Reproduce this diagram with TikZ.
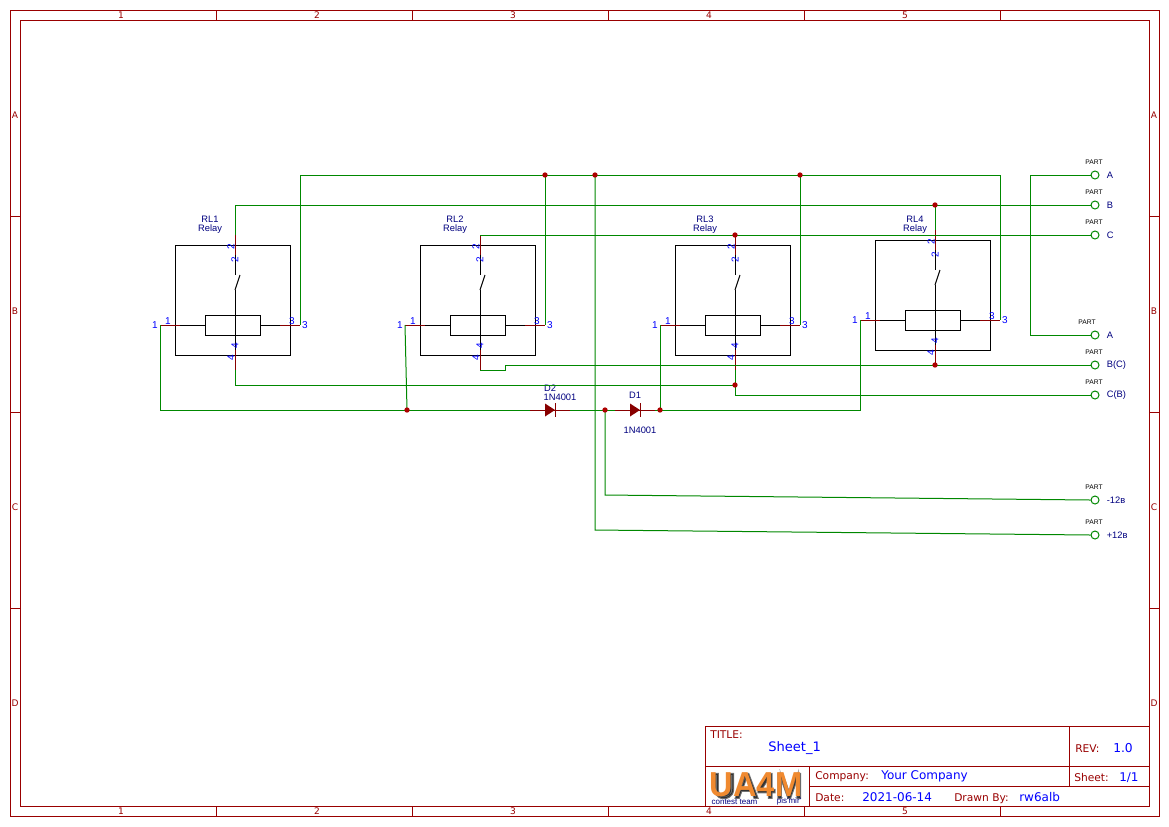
\documentclass[tikz,border=0pt]{standalone}
\usepackage{fontspec}
\setmainfont{DejaVu Sans}
\newfontfamily\lab{Liberation Sans}
\newfontfamily\logoglow[FakeBold=6]{Liberation Sans}
\definecolor{frame}{HTML}{990000}
\definecolor{wire}{HTML}{008800}
\definecolor{sym}{HTML}{880000}
\definecolor{pinc}{HTML}{0000FF}
\definecolor{labc}{HTML}{000080}
\definecolor{orng}{HTML}{F08A30}
\tikzset{
  wirel/.style={draw=wire,line width=0.75pt},
  framel/.style={draw=frame,line width=0.75pt},
  syml/.style={draw=black,line width=0.75pt},
  pinl/.style={draw=sym,line width=0.75pt},
  dotj/.style={circle,fill=frame!80!red,inner sep=0pt,minimum size=4pt},
  pinnum/.style={text=pinc,font=\lab\fontsize{7.5}{8}\selectfont,inner sep=0pt},
  reflab/.style={text=labc,font=\lab\fontsize{7}{8}\selectfont,inner sep=0pt,align=center},
  tick/.style={text=frame,font=\fontsize{6.8}{8}\selectfont,inner sep=0pt},
  tbk/.style={text=frame,font=\fontsize{8}{9}\selectfont,inner sep=0pt,anchor=base west},
  tbv/.style={text=pinc,font=\fontsize{9}{10}\selectfont,inner sep=0pt,anchor=base west},
  partl/.style={text=black,font=\lab\fontsize{5}{6}\selectfont,inner sep=0pt},
  portc/.style={circle,draw=wire,line width=0.75pt,inner sep=0pt,minimum size=6pt},
  portl/.style={text=labc,font=\lab\fontsize{7}{8}\selectfont,inner sep=0pt,anchor=west},
  logotxt/.style={font=\lab\bfseries\fontsize{26}{28}\selectfont,inner sep=0pt,xscale=0.94},
  logoshade/.style={font=\logoglow\fontsize{26}{28}\selectfont,inner sep=0pt,xscale=0.94},
  logosub/.style={text=labc,font=\lab\fontsize{6}{7}\selectfont,inner sep=0pt},
}
% relay symbol: name, x offset, y offset
\newcommand{\relaysym}[3]{%
  \begin{scope}[shift={(#2,#3)}]
    \node[draw=black,line width=0.75pt,minimum width=86.25pt,minimum height=82.5pt,inner sep=0pt] (#1) at (232.5,300) {};
    \node[draw=black,line width=0.75pt,minimum width=41.25pt,minimum height=15pt,inner sep=0pt] (#1c) at (232.5,325) {};
    \coordinate (#1-1) at (160,325);
    \coordinate (#1-2) at (235,235);
    \coordinate (#1-3) at (300,325);
    \coordinate (#1-4) at (235,370);
    \draw[syml] (180,325) -- (#1c.west);
    \draw[syml] (#1c.east) -- (280,325);
    \draw[syml] (235,255) -- (235,275);
    \draw[syml] (235,290) -- (240,275);
    \draw[syml] (235,290) -- (235,350);
    \draw[pinl] (#1-1) -- (180,325);
    \draw[pinl] (280,325) -- (#1-3);
    \draw[pinl] (#1-2) -- (235,255);
    \draw[pinl] (235,350) -- (#1-4);
    \node[pinnum] at (155,325) {1};
    \node[pinnum] at (168,321) {1};
    \node[pinnum] at (292,321) {3};
    \node[pinnum] at (305,325) {3};
    \node[pinnum,rotate=90] at (231,247) {2};
    \node[pinnum,rotate=90] at (235,260) {2};
    \node[pinnum,rotate=90] at (235,346) {4};
    \node[pinnum,rotate=90] at (231,358) {4};
  \end{scope}}
% port: name, y, text
\newcommand{\portsym}[4][1085]{%
  \node[portc] (#2) at (1095,#3) {};
  \node[partl] at (#1+9,#3-12.5) {PART};
  \node[portl] at (1106.5,#3+0.5) {#4};}
\begin{document}
\begin{tikzpicture}[x=0.75pt,y=-0.75pt]
\useasboundingbox (0,0) rectangle (1169,826);
\fill[white] (0,0) rectangle (1169,826);
% frame
\draw[framel] (10,10) rectangle (1159,816);
\draw[framel] (20,20) rectangle (1149,806);
\foreach \x in {216,412,608,804,1000}{
  \draw[framel] (\x,10) -- (\x,20);
  \draw[framel] (\x,806) -- (\x,816);}
\foreach \y in {216,412,608}{
  \draw[framel] (10,\y) -- (20,\y);
  \draw[framel] (1149,\y) -- (1159,\y);}
\foreach \n/\x in {1/121,2/317,3/513,4/709,5/905}{
  \node[tick] at (\x,15.5) {\n};
  \node[tick] at (\x,811.5) {\n};}
\foreach \n/\y in {A/115,B/311,C/507,D/703}{
  \node[tick] at (15,\y) {\n};
  \node[tick] at (1154,\y) {\n};}
% relays
\relaysym{ra}{0}{0}
\relaysym{rb}{245}{0}
\relaysym{rc}{500}{0}
\relaysym{rd}{700}{-5}
\node[reflab] at (210,225) {RL1\\[-1.1pt]Relay};
\node[reflab] at (455,225) {RL2\\[-1.1pt]Relay};
\node[reflab] at (705,225) {RL3\\[-1.1pt]Relay};
\node[reflab] at (915,225) {RL4\\[-1.1pt]Relay};
% ports
\portsym{pa}{175}{A}
\portsym{pb}{205}{B}
\portsym{pc}{235}{C}
\portsym[1078]{pa2}{335}{A}
\portsym{pbc}{365}{B(C)}
\portsym{pcb}{395}{C(B)}
\portsym{pm}{500}{-12в}
\portsym{pp}{535}{+12в}
% junctions
\coordinate (j1) at (545,175);
\coordinate (j2) at (595,175);
\coordinate (j3) at (800,175);
\coordinate (j4) at (935,205);
\coordinate (j5) at (735,235);
\coordinate (j6) at (735,385);
\coordinate (j7) at (935,365);
\coordinate (j8) at (407,410);
\coordinate (j9) at (605,410);
\coordinate (j10) at (660,410);
% diodes
\coordinate (d2a) at (530,410);
\coordinate (d2c) at (570,410);
\coordinate (d1a) at (615,410);
\coordinate (d1c) at (655,410);
\foreach \a/\c/\x in {d2a/d2c/550,d1a/d1c/635}{
  \draw[pinl] (\a) -- (\c);
  \fill[sym] (\x-5,403.5) -- (\x+5,410) -- (\x-5,416.5) -- cycle;
  \draw[pinl] (\x+5.5,403) -- (\x+5.5,417);
}
\node[reflab] at (550,388.5) {D2};
\node[reflab] at (560,397.5) {1N4001};
\node[reflab] at (635,395) {D1};
\node[reflab] at (640,430) {1N4001};
% wires
\draw[wirel] (ra-3) |- (1000,175) -- (rd-3);
\draw[wirel] (rb-3) -- (j1);
\draw[wirel] (rc-3) -- (j3);
\draw[wirel] (ra-2) |- (pb.west);
\draw[wirel] (rd-2) -- (j4);
\draw[wirel] (rb-2) -- (pc.west);
\draw[wirel] (rc-2) -- (j5);
\draw[wirel] (ra-4) |- (j6);
\draw[wirel] (rc-4) |- (pcb.west);
\draw[wirel] (rb-4) -- (505,370) -- (505,365) -- (pbc.west);
\draw[wirel] (rd-4) -- (j7);
\draw[wirel] (ra-1) |- (d2a);
\draw[wirel] (rb-1) -- (j8);
\draw[wirel] (d2c) -- (d1a);
\draw[wirel] (d1c) -- (860,410) -- (rd-1);
\draw[wirel] (rc-1) -- (j10);
\draw[wirel] (j9) -- (605,495) -- (pm.west);
\draw[wirel] (j2) -- (595,530) -- (pp.west);
\draw[wirel] (pa.west) -- (1030,175) -- (1030,335) -- (pa2.west);
\foreach \j in {j1,j2,j3,j4,j5,j6,j7,j8,j9,j10}{\node[dotj] at (\j) {};}
% title block
\draw[framel] (705,726) rectangle (1149,806);
\draw[framel] (705,766) -- (1149,766);
\draw[framel] (809,786) -- (1149,786);
\draw[framel] (809,766) -- (809,806);
\draw[framel] (1069,726) -- (1069,786);
\node[tbk] at (710,738) {TITLE:};
\node[text=pinc,font=\fontsize{9.8}{12}\selectfont,inner sep=0pt,anchor=base west] at (768,751.5) {Sheet\_1};
\node[tbk] at (1075,752) {REV:};
\node[tbk,text=pinc,font=\fontsize{9.2}{10}\selectfont] at (1113,752) {1.0};
\node[tbk] at (815,779) {Company:};
\node[tbv] at (881,779) {Your Company};
\node[tbk] at (1074,781) {Sheet:};
\node[tbv] at (1119,781) {1/1};
\node[tbk] at (815,801) {Date:};
\node[tbv] at (862,801) {2021-06-14};
\node[tbk] at (954,801) {Drawn By:};
\node[tbv] at (1019,801) {rw6alb};
% logo
\node[logoshade,text=black,opacity=.55] at (757.5,786) {UA4M};
\node[logotxt,text=orng] at (756,785) {UA4M};
\node[logosub] at (734.5,802) {contest team};
\node[logosub] at (789,801.5) {pis'mir'};
\end{tikzpicture}
\end{document}
